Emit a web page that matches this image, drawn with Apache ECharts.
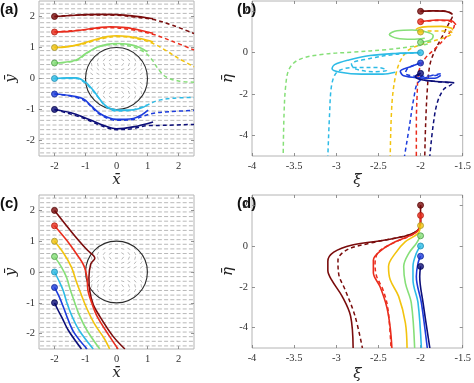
<!DOCTYPE html>
<html><head><meta charset="utf-8">
<script src="https://cdn.jsdelivr.net/npm/echarts@6/dist/echarts.min.js"></script>
<style>html,body{margin:0;padding:0;background:#fff}#c{width:474px;height:383px}</style>
</head><body><div id="c"></div>
<script>
// ---------- data ----------
const seriesNames = ['y0 = 2', 'y0 = 1.5', 'y0 = 1', 'y0 = 0.5', 'y0 = 0', 'y0 = -0.5', 'y0 = -1'];
const tickXY = [-2, -1, 0, 1, 2];
const tickXi = [-4, -3.5, -3, -2.5, -2, -1.5];
const tickEta = [-4, -2, 0, 2];

// quiver grid (positions) and interior orientations (deg)
const qx = [-2.4,-2.2,-2,-1.8,-1.6,-1.4,-1.2,-1,-0.8,-0.6,-0.4,-0.2,0,0.2,0.4,0.6,0.8,1,1.2,1.4,1.6,1.8,2,2.2,2.4];
const qy = [-2.4,-2.25,-2.1,-1.95,-1.8,-1.65,-1.5,-1.35,-1.2,-1.05,-0.9,-0.75,-0.6,-0.45,-0.3,-0.15,0,0.15,0.3,0.45,0.6,0.75,0.9,1.05,1.2,1.35,1.5,1.65,1.8,1.95,2.1,2.25,2.4];
const inCols = [-0.8,-0.6,-0.4,-0.2,0,0.2,0.4,0.6,0.8];
const inRows = [0.9,0.75,0.6,0.45,0.3,0.15,0,-0.15,-0.3,-0.45,-0.6,-0.75,-0.9];
const inAngles = [
  [null,null, 18,  9, 0, -9,-18,null,null],
  [null, 37, 27, 14, 0,-14,-27,-37,null],
  [null, 62, 52, 32, 0,-32,-52,-62,null],
  [ -80,-75,-68,-52, 0, 52, 68, 75, 80],
  [ -52,-43,-32,-17, 0, 17, 32, 43, 52],
  [ -36,-28,-20,-10, 0, 10, 20, 28, 36],
  [   0,  0,  0,  0, 0,  0,  0,  0,  0],
  [  36, 28, 20, 10, 0,-10,-20,-28,-36],
  [  52, 43, 32, 17, 0,-17,-32,-43,-52],
  [  80, 75, 68, 52, 0,-52,-68,-75,-80],
  [null,-62,-52,-32, 0, 32, 52, 62,null],
  [null,-37,-27,-14, 0, 14, 27, 37,null],
  [null,null,-18, -9, 0,  9, 18,null,null]
];
const bodyCircle = [[0, 0, 1]];

// panel (a): trajectories in x-y, solid and dashed
const a_s1 = [[-2,2],[-1.5,2.03],[-1,2.06],[-0.5,2.07],[0,2.06],[0.5,2.02],[1.18,1.93]];
const a_s2 = [[-2,1.5],[-1.5,1.52],[-1,1.58],[-0.5,1.65],[-0.2,1.67],[0.3,1.64],[0.8,1.55],[1.18,1.46]];
const a_s3 = [[-2,1],[-1.6,1.02],[-1.2,1.1],[-0.7,1.25],[-0.3,1.35],[0,1.38],[0.4,1.35],[0.8,1.28],[1.18,1.18]];
const a_s4 = [[-2,0.5],[-1.7,0.52],[-1.3,0.6],[-1,0.8],[-0.65,1.0],[-0.3,1.1],[0,1.13],[0.4,1.1],[0.75,1.0],[1.0,0.86]];
const a_s5 = [[-2,0],[-1.6,0.02],[-1.3,0.02],[-1.0,-0.12],[-0.75,-0.38],[-0.5,-0.72],[-0.3,-0.92],[0,-1.02],[0.4,-1.02],[0.75,-0.97],[1.0,-0.86]];
const a_s6 = [[-2,-0.5],[-1.5,-0.55],[-1.08,-0.65],[-0.8,-0.9],[-0.54,-1.13],[-0.25,-1.27],[0,-1.32],[0.54,-1.29],[0.8,-1.18],[1.02,-1.02]];
const a_s7 = [[-2,-1],[-1.5,-1.1],[-1.08,-1.24],[-0.5,-1.48],[0,-1.62],[0.54,-1.56],[1.18,-1.4]];
const a_d1 = [[-2,2],[-1,2.05],[0,2.04],[0.6,1.98],[1.2,1.9],[1.8,1.72],[2.5,1.45]];
const a_d2 = [[-2,1.5],[-1,1.57],[-0.2,1.64],[0.5,1.57],[1.2,1.42],[1.8,1.2],[2.5,0.92]];
const a_d3 = [[-2,1],[-1.2,1.08],[-0.6,1.25],[0,1.35],[0.6,1.3],[1.2,1.12],[1.6,0.9],[2,0.65],[2.5,0.38]];
const a_d4 = [[-2,0.5],[-1.3,0.58],[-0.9,0.85],[-0.5,1.05],[0,1.1],[0.5,1.03],[0.9,0.85],[1.15,0.6],[1.35,0.3],[1.6,0.05],[2.0,-0.08],[2.5,-0.12]];
const a_d5 = [[-2,0],[-1.3,0.0],[-0.9,-0.25],[-0.6,-0.6],[-0.35,-0.9],[0,-1.05],[0.5,-1.02],[1.0,-0.85],[1.3,-0.72],[1.8,-0.64],[2.5,-0.61]];
const a_d6 = [[-2,-0.5],[-1.1,-0.68],[-0.55,-1.15],[0,-1.35],[0.5,-1.33],[0.9,-1.2],[1.2,-1.12],[1.7,-1.07],[2.5,-1.03]];
const a_d7 = [[-2,-1],[-1.1,-1.27],[-0.5,-1.52],[0,-1.65],[0.5,-1.62],[1.0,-1.52],[1.6,-1.51],[2.5,-1.48]];

// panel (b): xi-eta
const b_s1 = [[-2,2],[-1.85,2.02],[-1.7,2.0],[-1.62,1.85]];
const b_s2 = [[-2,1.5],[-1.8,1.58],[-1.64,1.56],[-1.58,1.35]];
const b_s3 = [[-2,1],[-2.05,1.12],[-1.95,1.25],[-1.75,1.27],[-1.63,1.18],[-1.62,1.08]];
const b_s4 = [[-2,0.5],[-1.88,0.62],[-1.85,0.82],[-1.93,1.0],[-2.1,1.1],[-2.28,1.06],[-2.37,0.88],[-2.28,0.7],[-2.1,0.65],[-1.95,0.7]];
const b_s5 = [[-2,0],[-2.3,-0.04],[-2.6,-0.14],[-2.85,-0.35],[-3.02,-0.58],[-3.05,-0.78],[-2.95,-0.95],[-2.7,-1.04],[-2.45,-1.04],[-2.3,-0.95]];
const b_s6 = [[-2,-0.5],[-2.12,-0.68],[-2.24,-0.9],[-2.2,-1.12],[-2.0,-1.22],[-1.83,-1.24],[-1.76,-1.1]];
const b_s7 = [[-2,-1],[-2.06,-1.15],[-2.0,-1.3],[-1.85,-1.38],[-1.7,-1.42],[-1.6,-1.46]];
const b_d1 = [[-2,2],[-1.8,2.03],[-1.65,1.95],[-1.62,1.8],[-1.66,1.45],[-1.74,0.8],[-1.83,0.1],[-1.89,-0.6],[-1.92,-1.8],[-1.94,-3.5],[-1.95,-5]];
const b_d2 = [[-2,1.5],[-1.8,1.56],[-1.64,1.5],[-1.6,1.3],[-1.67,0.9],[-1.8,0.3],[-1.95,-0.3],[-2.02,-0.9],[-2.04,-2],[-2.05,-3.5],[-2.05,-5]];
const b_d3 = [[-2,1],[-1.9,1.05],[-1.7,1.05],[-1.62,0.95],[-1.7,0.75],[-1.95,0.45],[-2.14,0.13],[-2.24,-0.4],[-2.3,-1.2],[-2.34,-2.5],[-2.36,-5]];
const b_d4 = [[-2,0.5],[-1.88,0.55],[-1.92,0.42],[-2.1,0.3],[-2.4,0.15],[-2.8,0.03],[-3.2,-0.1],[-3.45,-0.35],[-3.56,-0.8],[-3.6,-1.6],[-3.62,-3],[-3.63,-5]];
const b_d5 = [[-2,0],[-2.3,-0.08],[-2.6,-0.28],[-2.82,-0.55],[-2.78,-0.78],[-2.55,-0.92],[-2.4,-0.85],[-2.5,-0.72],[-2.8,-0.72],[-2.96,-0.85],[-3.02,-1.1],[-3.06,-1.7],[-3.08,-3],[-3.1,-5]];
const b_d6 = [[-2,-0.5],[-2.15,-0.75],[-2.18,-1.0],[-2.02,-1.14],[-1.82,-1.1],[-1.76,-1.02],[-1.9,-1.15],[-2.03,-1.45],[-2.08,-2.2],[-2.13,-3.5],[-2.19,-5]];
const b_d7 = [[-2,-1],[-2.05,-1.17],[-1.95,-1.33],[-1.8,-1.4],[-1.65,-1.46],[-1.63,-1.52],[-1.72,-1.75],[-1.8,-2.4],[-1.85,-3.5],[-1.89,-5]];

// panel (c): x-y
const c_s1 = [[-2,2],[-1.35,1.18],[-0.95,0.72],[-0.7,0.45],[-0.83,0.26],[-0.89,-0.19],[-0.86,-0.63],[-0.75,-1.06],[-0.54,-1.44],[-0.11,-2.09],[0.27,-2.5]];
const c_s2 = [[-2,1.5],[-1.6,1.02],[-1.3,0.6],[-1.05,0.2],[-0.95,-0.2],[-0.92,-0.6],[-0.8,-1.0],[-0.62,-1.45],[-0.25,-2.05],[0.05,-2.5]];
const c_s3 = [[-2,1],[-1.7,0.6],[-1.45,0.15],[-1.3,-0.3],[-1.15,-0.7],[-0.95,-1.2],[-0.7,-1.7],[-0.4,-2.15],[-0.22,-2.5]];
const c_s4 = [[-2,0.5],[-1.8,0.2],[-1.62,-0.15],[-1.5,-0.55],[-1.38,-0.9],[-1.2,-1.4],[-0.95,-1.9],[-0.54,-2.5]];
const c_s5 = [[-2,0],[-1.85,-0.3],[-1.72,-0.6],[-1.6,-1.0],[-1.45,-1.4],[-1.2,-1.9],[-0.75,-2.5]];
const c_s6 = [[-2,-0.5],[-1.85,-0.8],[-1.72,-1.12],[-1.58,-1.5],[-1.38,-1.95],[-0.95,-2.5]];
const c_s7 = [[-2,-1],[-1.88,-1.25],[-1.75,-1.5],[-1.55,-1.9],[-1.13,-2.5]];

// panel (d): xi-eta
const d_s1 = [[-2,2],[-2,1.1],[-2.03,0.78],[-2.14,0.54],[-2.42,0.29],[-2.81,0.05],[-3.03,-0.3],[-3.1,-0.75],[-3.1,-1.2],[-3.05,-1.7],[-2.93,-2.47],[-2.83,-3.44],[-2.8,-5]];
const d_s2 = [[-2,1.5],[-2.01,0.94],[-2.07,0.62],[-2.3,0.21],[-2.46,-0.19],[-2.56,-0.7],[-2.56,-1.3],[-2.48,-2.0],[-2.4,-3.0],[-2.36,-4],[-2.34,-5]];
const d_s3 = [[-2,1],[-2.03,0.62],[-2.18,0.21],[-2.3,-0.36],[-2.38,-1.0],[-2.36,-1.66],[-2.26,-2.47],[-2.18,-3.77],[-2.16,-5]];
const d_s4 = [[-2,0.5],[-2.05,0.13],[-2.14,-0.36],[-2.2,-1.0],[-2.18,-1.82],[-2.11,-2.79],[-2.07,-5]];
const d_s5 = [[-2,0],[-2.05,-0.36],[-2.09,-1.0],[-2.09,-1.66],[-2.03,-2.79],[-1.99,-5]];
const d_s6 = [[-2,-0.5],[-2.03,-0.84],[-2.05,-1.49],[-1.99,-2.79],[-1.92,-5]];
const d_s7 = [[-2,-1],[-2.01,-1.49],[-1.97,-2.79],[-1.89,-5]];
const d_d1 = [[-2,2],[-2,1.1],[-2.05,0.72],[-2.2,0.48],[-2.61,0.13],[-2.88,-0.2],[-2.98,-0.7],[-2.97,-1.4],[-2.9,-2.1],[-2.78,-3.4],[-2.69,-5]];
const d_d2 = [[-2,1.5],[-2.01,0.9],[-2.1,0.55],[-2.32,0.15],[-2.5,-0.3],[-2.54,-0.9],[-2.52,-1.5],[-2.45,-2.1],[-2.39,-3.0],[-2.35,-5]];

// ---------- styles ----------
const lineColors = ['#7a0c0c', '#ea2c1c', '#f2c30e', '#86df78', '#2dbbe6', '#1c3cdc', '#0c0e78'];
const markerEdges = ['#5a0808', '#b01e12', '#a89a30', '#4f9a48', '#1e8cb0', '#12289a', '#060850'];

const panels = [
  { solid: [a_s1,a_s2,a_s3,a_s4,a_s5,a_s6,a_s7], dashed: [a_d1,a_d2,a_d3,a_d4,a_d5,a_d6,a_d7] },
  { solid: [b_s1,b_s2,b_s3,b_s4,b_s5,b_s6,b_s7], dashed: [b_d1,b_d2,b_d3,b_d4,b_d5,b_d6,b_d7] },
  { solid: [c_s1,c_s2,c_s3,c_s4,c_s5,c_s6,c_s7], dashed: [] },
  { solid: [d_s1,d_s2,d_s3,d_s4,d_s5,d_s6,d_s7], dashed: [d_d1,d_d2] }
];

const grids = [
  { left: 39, top: 1, width: 155, height: 155 },
  { left: 252, top: 1, width: 213, height: 155 },
  { left: 39, top: 195, width: 155, height: 154 },
  { left: 252, top: 195, width: 213, height: 154 }
].map(g => Object.assign(g, { show: true, borderColor: '#b4b4b4', borderWidth: 1, backgroundColor: 'transparent', containLabel: false }));

const labelStyle = { fontFamily: '"Liberation Serif", "DejaVu Serif", serif', fontSize: 10.5, color: '#333' };
const nameStyle = { fontFamily: '"DejaVu Serif", serif', fontStyle: 'italic', fontSize: 15, color: '#222' };
const tick = (vals) => ({ show: true, inside: true, length: 3, lineStyle: { color: '#777', width: 0.8 }, customValues: vals });
const noLine = { show: false, onZero: false };

function xAx(i, min, max, ticks, name, gap) {
  return { type: 'value', gridIndex: i, min, max, position: 'bottom',
    axisLine: noLine, splitLine: { show: false },
    axisTick: tick(ticks),
    axisLabel: Object.assign({ show: true, margin: 5, customValues: ticks, formatter: v => String(v) }, labelStyle),
    name, nameLocation: 'middle', nameGap: gap, nameTextStyle: nameStyle };
}
function yAx(i, min, max, ticks, name, gap) {
  return { type: 'value', gridIndex: i, min, max, position: 'left',
    axisLine: noLine, splitLine: { show: false },
    axisTick: tick(ticks),
    axisLabel: Object.assign({ show: true, margin: 4, customValues: ticks, formatter: v => String(v) }, labelStyle),
    name, nameLocation: 'middle', nameGap: gap, nameTextStyle: nameStyle };
}
function xTop(i, min, max, ticks) {
  return { type: 'value', gridIndex: i, min, max, position: 'top', axisLine: noLine, splitLine: { show: false },
    axisTick: tick(ticks), axisLabel: { show: false } };
}
function yRight(i, min, max, ticks) {
  return { type: 'value', gridIndex: i, min, max, position: 'right', axisLine: noLine, splitLine: { show: false },
    axisTick: tick(ticks), axisLabel: { show: false } };
}

const xAxes = [
  xAx(0, -2.5, 2.5, tickXY, 'x\u0304', 17),
  xAx(1, -4, -1.5, tickXi, '\u03BE\u0304', 17),
  xAx(2, -2.5, 2.5, tickXY, 'x\u0304', 16),
  xAx(3, -4, -1.5, tickXi, '\u03BE\u0304', 19),
  xTop(0, -2.5, 2.5, tickXY), xTop(1, -4, -1.5, tickXi), xTop(2, -2.5, 2.5, tickXY), xTop(3, -4, -1.5, tickXi)
];
const yAxes = [
  yAx(0, -2.5, 2.5, tickXY, 'y\u0304', 20),
  yAx(1, -5, 2.5, tickEta, '\u03B7\u0304', 10),
  yAx(2, -2.5, 2.5, tickXY, 'y\u0304', 20),
  yAx(3, -5, 2.5, tickEta, '\u03B7\u0304', 10),
  yRight(0, -2.5, 2.5, tickXY), yRight(1, -5, 2.5, tickEta), yRight(2, -2.5, 2.5, tickXY), yRight(3, -5, 2.5, tickEta)
];

// quiver items from grid positions + interior orientation table
function quiverItems() {
  const out = [];
  for (const y of qy) for (const x of qx) {
    if (x * x + y * y < 0.985) {
      const r = inRows.findIndex(v => Math.abs(v - y) < 1e-6);
      const c = inCols.findIndex(v => Math.abs(v - x) < 1e-6);
      if (r < 0 || c < 0) continue;
      const ang = inAngles[r][c];
      if (ang === null) continue;
      out.push([x, y, ang, 1]);
    } else {
      out.push([x, y, 0, 0]);
    }
  }
  return out;
}
const quiver = quiverItems();

function quiverSeries(g) {
  return { type: 'custom', xAxisIndex: g, yAxisIndex: g, data: quiver, z: 1, silent: true, clip: true,
    renderItem: (params, api) => {
      const p = api.coord([api.value(0), api.value(1)]);
      const a = api.value(2) * Math.PI / 180;
      const h = api.value(3) ? 1.6 : 2.0;
      const dx = Math.cos(a) * h, dy = Math.sin(a) * h;
      return { type: 'line', shape: { x1: p[0] - dx, y1: p[1] + dy, x2: p[0] + dx, y2: p[1] - dy },
        style: { stroke: '#a6a6a6', lineWidth: 0.8 } };
    } };
}
function circleSeries(g) {
  return { type: 'custom', xAxisIndex: g, yAxisIndex: g, data: bodyCircle, z: 2, silent: true,
    renderItem: (params, api) => {
      const c = api.coord([api.value(0), api.value(1)]);
      const rx = api.size([api.value(2), 0])[0];
      const ry = api.size([0, api.value(2)])[1];
      return { type: 'circle', shape: { cx: c[0], cy: c[1], r: (rx + ry) / 2 },
        style: { fill: 'none', stroke: '#2a2a2a', lineWidth: 1.1 } };
    } };
}

const series = [];
[0, 2].forEach(g => { series.push(quiverSeries(g)); series.push(circleSeries(g)); });
panels.forEach((p, g) => {
  p.solid.forEach((arr, i) => series.push({
    type: 'line', name: seriesNames[i], xAxisIndex: g, yAxisIndex: g, data: arr, showSymbol: false, smooth: 0.35,
    lineStyle: { color: lineColors[i], width: 1.6 }, z: 4, silent: true
  }));
  p.dashed.forEach((arr, i) => series.push({
    type: 'line', name: seriesNames[i] + ' (dashed)', xAxisIndex: g, yAxisIndex: g, data: arr, showSymbol: false, smooth: 0.35,
    lineStyle: { color: lineColors[i], width: 1.5, type: [4, 3] }, z: 3, silent: true
  }));
  series.push({
    type: 'scatter', xAxisIndex: g, yAxisIndex: g, symbolSize: 6, z: 6, silent: true,
    data: p.solid.map((arr, i) => ({ value: arr[0], itemStyle: { color: lineColors[i], borderColor: markerEdges[i], borderWidth: 1 } }))
  });
});

const panelFont = 'bold 15px "Liberation Sans", Arial, sans-serif';
const option = {
  animation: false,
  backgroundColor: '#ffffff',
  grid: grids,
  xAxis: xAxes,
  yAxis: yAxes,
  series,
  graphic: [
    { type: 'text', left: 0, top: 2, style: { text: '(a)', font: panelFont, fill: '#111' } },
    { type: 'text', left: 237, top: 2, style: { text: '(b)', font: panelFont, fill: '#111' } },
    { type: 'text', left: 0, top: 196, style: { text: '(c)', font: panelFont, fill: '#111' } },
    { type: 'text', left: 237, top: 196, style: { text: '(d)', font: panelFont, fill: '#111' } }
  ]
};
const chart = echarts.init(document.getElementById('c'), null, { renderer: 'canvas' });
chart.setOption(option);
</script></body></html>
